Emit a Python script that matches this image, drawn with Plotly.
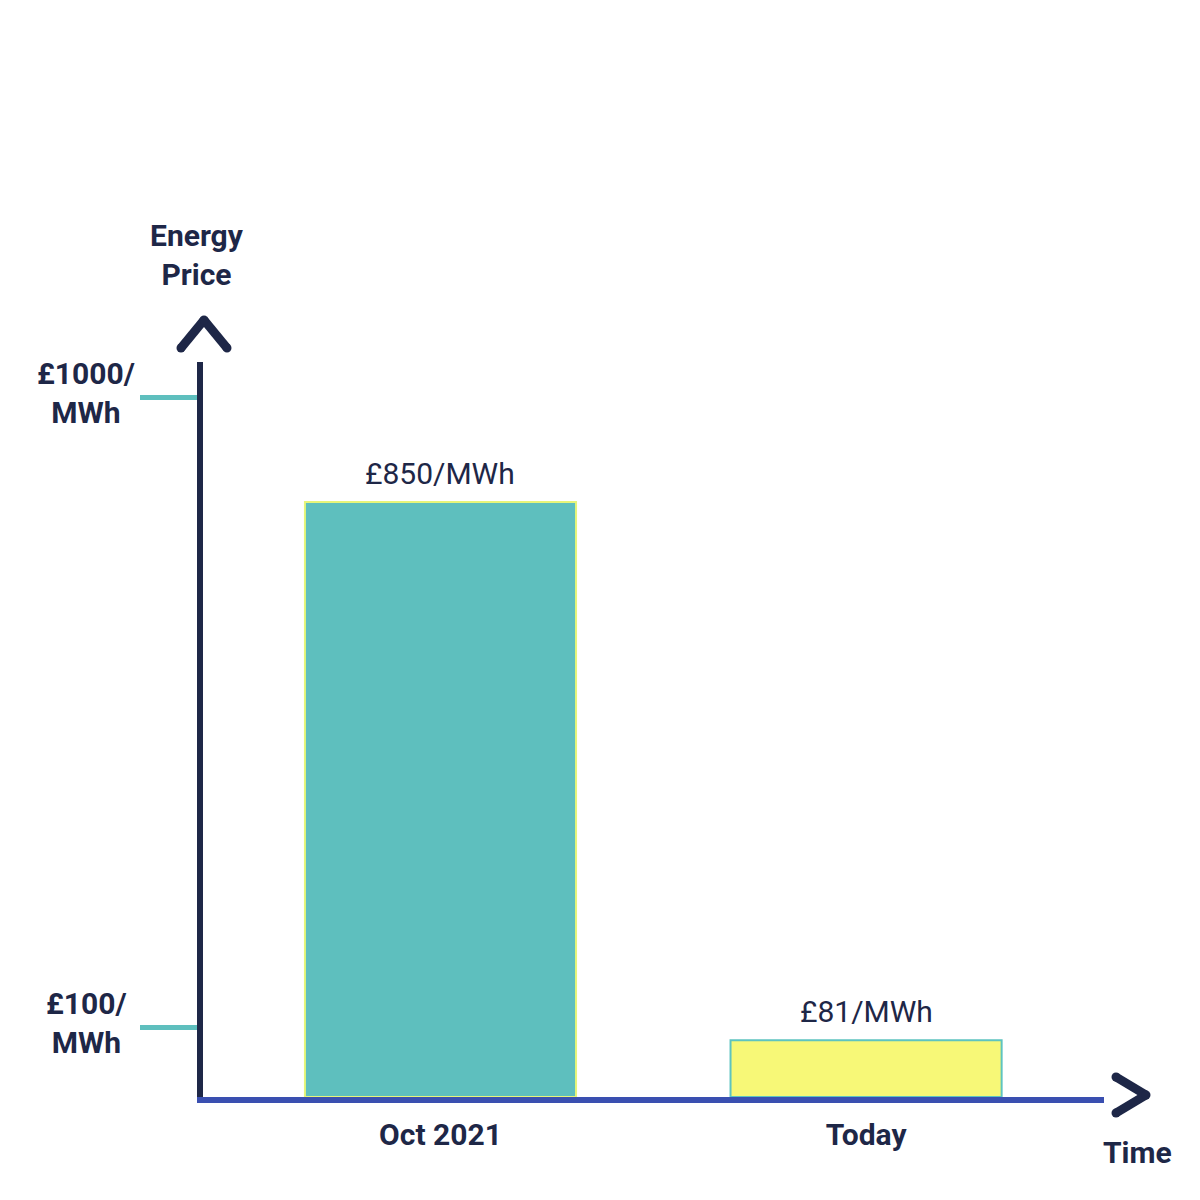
import plotly.graph_objects as go

# ---- data ----
categories = ["Oct 2021", "Today"]
prices = [850, 81]
tick_values = [100, 1000]
tick_labels = ["£100/<br>MWh", "£1000/<br>MWh"]
y_title = "Energy<br>Price"
x_title = "Time"

NAVY = "#1e2747"
TEAL = "#5ebfbe"
YELLOW = "#f7f877"
BLUE = "#3a4fb0"
FONT = "Roboto"

fig = go.Figure()
fig.add_trace(go.Bar(
    x=categories, y=prices, width=0.637,
    marker=dict(color=[TEAL, YELLOW],
                line=dict(color=["#e6f57a", "#5ec4c0"], width=2)),
    hoverinfo="skip", showlegend=False,
))

L, R, T, B = 203, 96, 362, 103
W = H = 1200
pw, ph = W - L - R, H - T - B

def px_x(p):
    return (p - L) / pw

def px_y(p):
    return (H - B - p) / ph

annotations = []
# bar value labels
for c, v in zip(categories, prices):
    annotations.append(dict(x=c, y=v, xref="x", yref="y", text=f"£{v}/MWh",
                            showarrow=False, yanchor="middle", yshift=29,
                            font=dict(family=FONT, size=30, color=NAVY)))
# y tick labels (two centred lines)
for tv, tl in zip(tick_values, tick_labels):
    annotations.append(dict(x=px_x(86), y=tv, xref="paper", yref="y", text=tl,
                            showarrow=False, xanchor="center", yanchor="middle", yshift=4,
                            align="center",
                            font=dict(family=FONT, size=30, color=NAVY, weight=700)))
# axis titles
annotations.append(dict(x=px_x(197), y=px_y(255), xref="paper", yref="paper",
                        text=y_title, showarrow=False, xanchor="center", yanchor="middle",
                        align="center",
                        font=dict(family=FONT, size=30, color=NAVY, weight=700)))
annotations.append(dict(x=px_x(1137), y=px_y(1152), xref="paper", yref="paper",
                        text=x_title, showarrow=False, xanchor="center", yanchor="middle",
                        font=dict(family=FONT, size=30, color=NAVY, weight=700)))

# chevron arrows (pixel-sized shapes anchored to the axis ends)
shapes = []
SW = 9

def chevron(ax, ay, pts):
    (x0, y0), (x1, y1), (x2, y2) = pts
    for (a, b), (c, d) in [((x0, y0), (x1, y1)), ((x1, y1), (x2, y2))]:
        shapes.append(dict(type="line", xref="paper", yref="paper",
                           xsizemode="pixel", ysizemode="pixel", xanchor=ax, yanchor=ay,
                           x0=a, y0=b, x1=c, y1=d, line=dict(color=NAVY, width=SW)))
    for (a, b) in pts:
        shapes.append(dict(type="circle", xref="paper", yref="paper",
                           xsizemode="pixel", ysizemode="pixel", xanchor=ax, yanchor=ay,
                           x0=a - SW / 2, x1=a + SW / 2, y0=b - SW / 2, y1=b + SW / 2,
                           fillcolor=NAVY, line=dict(width=0)))

chevron(0, 1, [(-22, 14), (1, 42), (24, 14)])
chevron(1, 0, [(12, 20), (42, 2), (12, -16)])

fig.update_layout(
    width=W, height=H, autosize=False,
    margin=dict(l=L, r=R, t=T, b=B),
    paper_bgcolor="white", plot_bgcolor="white",
    annotations=annotations, shapes=shapes,
    hovermode=False,
    xaxis=dict(range=[-0.558, 1.559], showgrid=False, zeroline=False,
               showline=True, linecolor=BLUE, linewidth=6, ticks="",
               ticklabelstandoff=6, fixedrange=True,
               tickfont=dict(family=FONT, size=30, color=NAVY, weight=700)),
    yaxis=dict(range=[0, 1050], showgrid=False, zeroline=False,
               showline=True, linecolor=NAVY, linewidth=6,
               tickvals=tick_values, showticklabels=False, fixedrange=True,
               ticks="outside", ticklen=57, tickwidth=5, tickcolor=TEAL),
)

fig.write_html("out.html", config={"displayModeBar": False},
               post_script="document.body.style.margin='0';")
